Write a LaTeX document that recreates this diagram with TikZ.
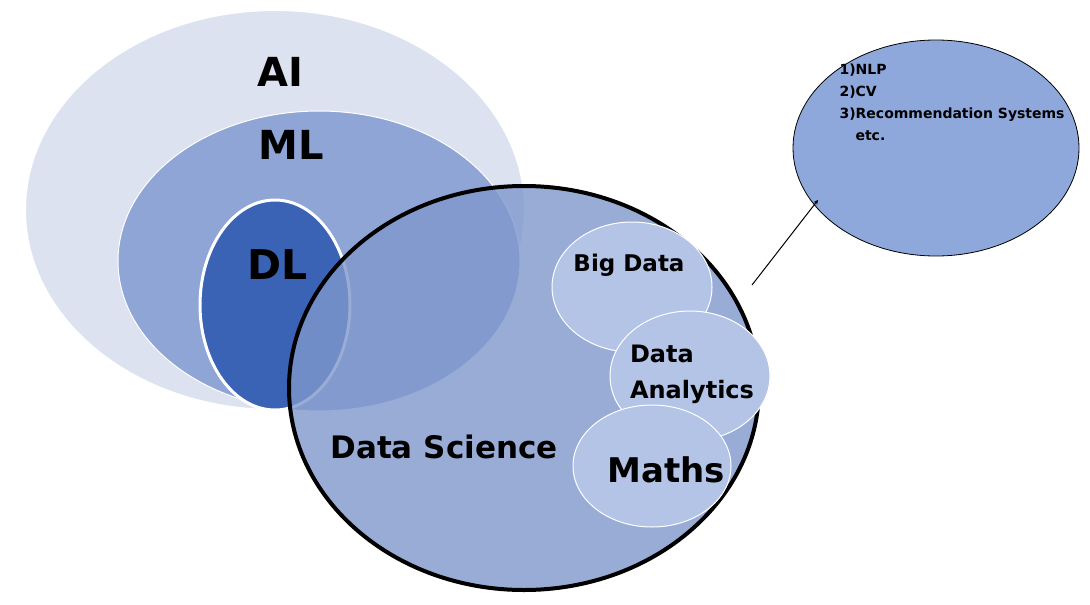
\documentclass[tikz,border=0pt]{standalone}
\usepackage{fontspec}
\setmainfont{DejaVu Sans}
\usetikzlibrary{shapes.geometric}
\definecolor{aic}{HTML}{DCE2EF}
\definecolor{mlc}{HTML}{8FA5D6}
\definecolor{dlc}{HTML}{3A63B5}
\definecolor{dsc}{HTML}{7F98CC}
\definecolor{subc}{HTML}{B4C4E6}
\definecolor{rc}{HTML}{8EA8DC}
\tikzset{ell/.style={ellipse,inner sep=0pt},
 lbl/.style={font=\bfseries,text=black,align=center}}
\begin{document}
\begin{tikzpicture}[x=1pt,y=-1pt]
\useasboundingbox[fill=white] (0,0) rectangle (1090,605);
\node[ell,fill=aic,draw=white,line width=2pt,minimum width=500,minimum height=400] (ai) at (275,210) {};
\node[ell,fill=mlc,draw=white,line width=1pt,minimum width=402,minimum height=300] (ml) at (319,261) {};
\node[ell,fill=dlc,draw=white,line width=3pt,minimum width=150,minimum height=210] (dl) at (275,305) {};
\node[ell,fill=dsc,fill opacity=0.8,draw=black,line width=4pt,minimum width=470,minimum height=404] (ds) at (524,388) {};
\node[ell,fill=subc,draw=white,line width=1pt,minimum width=160,minimum height=130] (bd) at (632,287) {};
\node[ell,fill=subc,draw=white,line width=1pt,minimum width=160,minimum height=130] (da) at (690,376) {};
\node[ell,fill=subc,draw=white,line width=1pt,minimum width=158,minimum height=122] (ma) at (652,466) {};
\node[ell,fill=rc,draw=black,line width=0.8pt,minimum width=286,minimum height=216] (r) at (936,148) {};
\node[lbl,font=\bfseries\fontsize{40}{44}\selectfont] (tai) at (280,72) {AI};
\node[lbl,font=\bfseries\fontsize{40}{44}\selectfont] (tml) at (291,145) {ML};
\node[lbl,font=\bfseries\fontsize{41}{44}\selectfont] (tdl) at (278,265) {DL};
\node[lbl,font=\bfseries\fontsize{31}{36}\selectfont] (tds) at (444,447) {Data Science};
\node[lbl,font=\bfseries\fontsize{23}{28}\selectfont] (tbd) at (629,265) {Big Data};
\node[lbl,font=\bfseries\fontsize{24}{36}\selectfont,align=left] (tda) at (692,374) {Data\\Analytics};
\node[lbl,font=\bfseries\fontsize{34}{38}\selectfont] (tma) at (666,470) {Maths};
\node[font=\bfseries\fontsize{14}{22}\selectfont,align=left,anchor=north west] (lst) at (836,60) {1)NLP\\2)CV\\3)Recommendation Systems\\\hspace{16pt}etc.};
\coordinate (tip) at (818,200);
\coordinate (tail) at (752,285);
\draw[-stealth,line width=1pt] (tail) -- (tip);
\end{tikzpicture}
\end{document}
